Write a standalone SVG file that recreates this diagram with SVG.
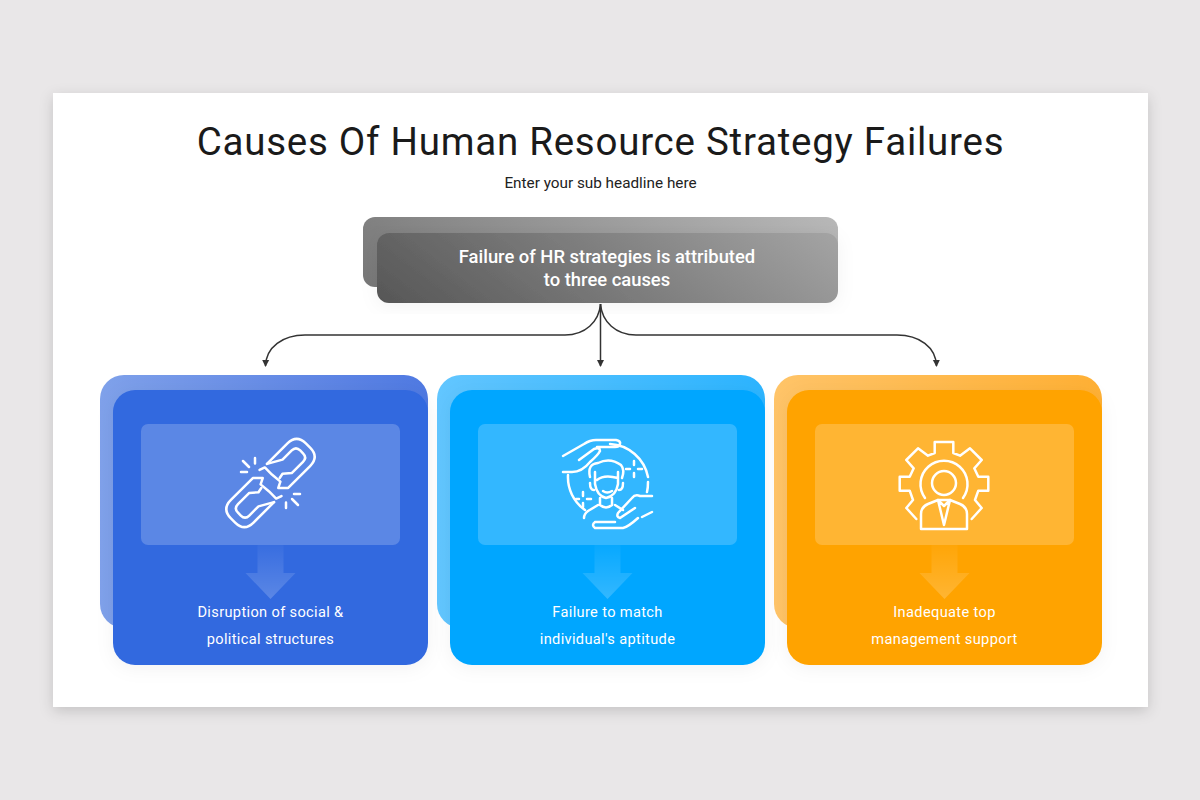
<svg xmlns="http://www.w3.org/2000/svg" width="1200" height="800" viewBox="0 0 1200 800">
<defs>
<linearGradient id="gBack" gradientUnits="userSpaceOnUse" x1="363" y1="287" x2="568" y2="14"><stop offset="0" stop-color="#767676"/><stop offset="1" stop-color="#b8b8b8"/></linearGradient>
<linearGradient id="gFront" gradientUnits="userSpaceOnUse" x1="377" y1="303" x2="577" y2="37"><stop offset="0" stop-color="#565656"/><stop offset="1" stop-color="#a4a4a4"/></linearGradient>
<linearGradient id="gArrow" x1="0" y1="0" x2="0" y2="1"><stop offset="0" stop-color="#fff" stop-opacity="0.03"/><stop offset="1" stop-color="#fff" stop-opacity="0.2"/></linearGradient>
<linearGradient id="bBlue"><stop offset="0" stop-color="#7fa1ea"/><stop offset="1" stop-color="#4f79e2"/></linearGradient>
<linearGradient id="bCyan"><stop offset="0" stop-color="#62c6ff"/><stop offset="1" stop-color="#2cb4ff"/></linearGradient>
<linearGradient id="bOrange"><stop offset="0" stop-color="#ffc468"/><stop offset="1" stop-color="#ffb034"/></linearGradient>
<filter id="sheet" x="-5%" y="-5%" width="110%" height="112%"><feDropShadow dx="0" dy="4" stdDeviation="7" flood-color="#000" flood-opacity="0.16"/></filter>
<filter id="soft" x="-10%" y="-10%" width="120%" height="125%"><feDropShadow dx="0" dy="3" stdDeviation="9" flood-color="#000" flood-opacity="0.05"/></filter>
<marker id="arr" markerWidth="8" markerHeight="8" refX="6" refY="4" orient="auto" markerUnits="userSpaceOnUse" viewBox="0 0 8 8"><path d="M0 0.500L7 4L0 7.500Z" fill="#333"/></marker>
<path id="arrowShape" d="M-13 0H13V28H25L0 54L-25 28H-13Z" fill="url(#gArrow)"/>
<g id="linkHalf"><path d="M11 -16H40Q53 -16 53 -3V3Q53 16 40 16H9L2 9L8 6L7 -5L7 -15L1.500 -17"/><path d="M11 -16L25 -8H38Q44 -8 44 -2V2Q44 8 38 8H22L15 2L10 3"/><path d="M243 461L249 467M255 458V463.500M241 472H247" transform="rotate(45) translate(-270.500 -483)"/></g>
</defs>
<style>
.t{font-family:Roboto,"Liberation Sans",sans-serif;text-anchor:middle}
.card{fill:#fff;font-size:14.6px;letter-spacing:.35px}
.ico{fill:none;stroke:#fff;stroke-width:2.5;stroke-linecap:round;stroke-linejoin:round}
.con{fill:none;stroke:#333;stroke-width:1.5}
.panel{fill:#fff;fill-opacity:.2}
</style>
<rect width="1200" height="800" fill="#e9e7e8"/>
<rect x="53" y="93" width="1095" height="614" fill="#fff" filter="url(#sheet)"/>
<g id="title">
<text class="t" x="600.500" y="155" font-size="38.500" letter-spacing=".75" fill="#1a1a1a">Causes Of Human Resource Strategy Failures</text>
<text class="t" x="600.500" y="188" font-size="15.300" fill="#222">Enter your sub headline here</text>
</g>
<g id="connectors">
<path class="con" d="M600.500 304V366" marker-end="url(#arr)"/>
<path class="con" d="M600.500 304C599 322 585 335 565 335H305C283 335 266 347 265.500 366" marker-end="url(#arr)"/>
<path class="con" d="M600.500 304C602 322 616 335 636 335H897C919 335 936 347 936.500 366" marker-end="url(#arr)"/>
</g>
<g id="node-root">
<rect x="363" y="217" width="475" height="70" rx="12" fill="url(#gBack)"/>
<rect x="377" y="233" width="461" height="70" rx="12" fill="url(#gFront)" filter="url(#soft)"/>
<text class="t" font-size="18.400" font-weight="500" fill="#fff" x="607" y="263">Failure of HR strategies is attributed</text>
<text class="t" font-size="18.400" font-weight="500" fill="#fff" x="607" y="285.500">to three causes</text>
</g>
<g id="node-disruption">
<rect x="100" y="375" width="328" height="253" rx="24" fill="url(#bBlue)"/>
<rect x="113" y="390" width="315" height="275" rx="22" fill="#3269df" filter="url(#soft)"/>
<rect class="panel" x="141" y="424" width="259" height="121" rx="7"/>
<use href="#arrowShape" x="270.500" y="545"/>
<g class="ico">
<use href="#linkHalf" transform="translate(270.500 483) rotate(-45)"/>
<use href="#linkHalf" transform="translate(270.500 483) rotate(135)"/>
</g>
<text class="t card" x="270.500" y="617">Disruption of social &amp;</text>
<text class="t card" x="270.500" y="644">political structures</text>
</g>
<g id="node-aptitude">
<rect x="437" y="375" width="328" height="253" rx="24" fill="url(#bCyan)"/>
<rect x="450" y="390" width="315" height="275" rx="22" fill="#00a6ff" filter="url(#soft)"/>
<rect class="panel" x="478" y="424" width="259" height="121" rx="7"/>
<use href="#arrowShape" x="607.500" y="545"/>
<g class="ico">
<path d="M563 456L584 444Q590 440 596 440H616Q621 441 620 444Q619 447 615 447H597M579 460L594 449Q600 447 600 451Q598 455 590 462Q582 472 572 472H563"/>
<path d="M610 444A41 41 0 0 1 648 477M648 482Q648 488 647 492M568 475A40 40 0 0 0 585 510"/>
<path d="M652 496H640Q635 494 632 498L618 513Q616 517 620 518L635 508M595 522H615M595 522Q591 525 595 528H623Q628 527 638 518M642 517L652 512"/>
<path d="M595 472V484Q597 496 606 498Q616 496 618 484V472M590 477Q587 464 598 463Q610 457 621 465Q625 470 622 478M597 480Q604 474 618 478M590 483Q590 490 594 490M623 483Q623 490 619 490M603 491Q607 494 612 491"/>
<path d="M600 498V505Q606 510 612 505V498M598 505L588 511Q584 514 584 518M615 505L623 510"/>
<path d="M634 461V465M634 473V477M626 469H630M638 469H642M583 492V496M583 503V507M576 499H579M587 499H591"/>
</g>
<text class="t card" x="607.500" y="617">Failure to match</text>
<text class="t card" x="607.500" y="644">individual's aptitude</text>
</g>
<g id="node-support">
<rect x="774" y="375" width="328" height="253" rx="24" fill="url(#bOrange)"/>
<rect x="787" y="390" width="315" height="275" rx="22" fill="#ffa306" filter="url(#soft)"/>
<rect class="panel" x="815" y="424" width="259" height="121" rx="7"/>
<use href="#arrowShape" x="944.500" y="545"/>
<g class="ico">
<path d="M916.300 519L906.300 508L913 500L909.700 490.700H899.700V476.700H909.700L913.700 468.300L906.300 460L918 448.300L928 455.700L934.700 453V442H953.300V453L960 455.700L970 448.300L981.700 460L974.300 468.300L978.300 476.700H988.300V490.700H978.300L975 500L981.700 508L971.700 519"/>
<path d="M925 498A23.500 23.500 0 1 1 963 498"/>
<circle cx="944" cy="483" r="12"/>
<path d="M921 529V514Q921 507 928 504L938 500H950L960 504Q967 507 967 514V529Z"/>
<path d="M938 500L944 525L950 500M939 501L944 506L949 501"/>
</g>
<text class="t card" x="944.500" y="617">Inadequate top</text>
<text class="t card" x="944.500" y="644">management support</text>
</g>
</svg>
